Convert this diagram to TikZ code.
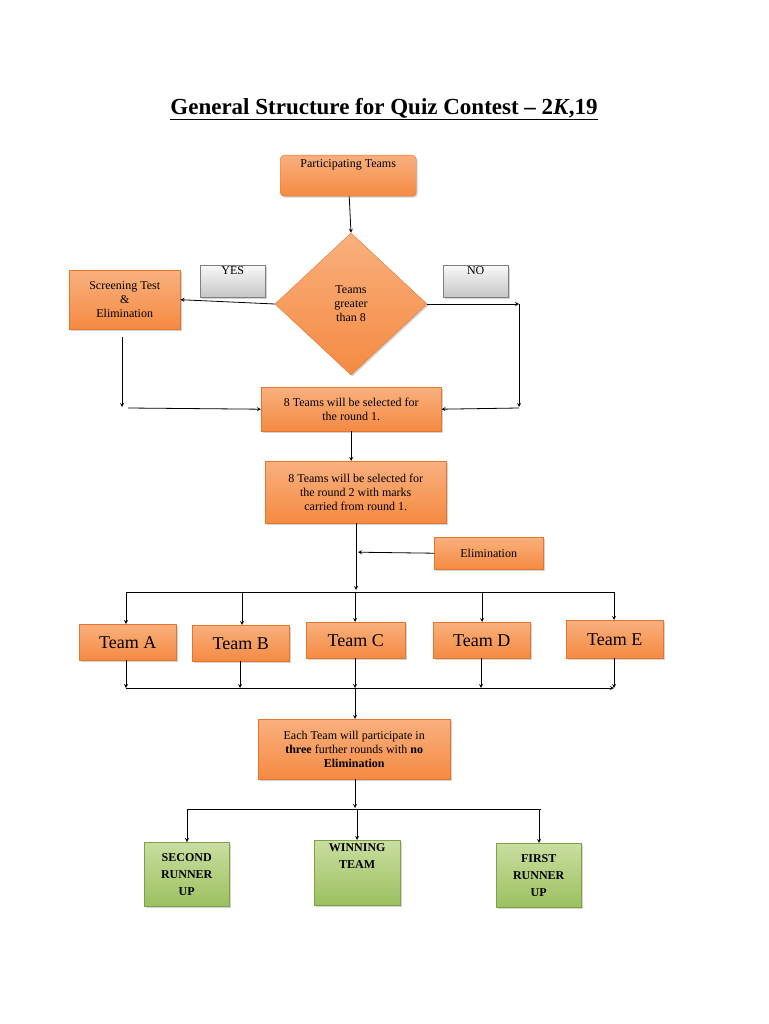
\documentclass[tikz,border=0pt]{standalone}
\usepackage{fontspec}
\setmainfont{Liberation Serif}
\usetikzlibrary{shapes.geometric,shadows}
\definecolor{orT}{HTML}{F9B07E}
\definecolor{orB}{HTML}{F58A42}
\definecolor{orD}{HTML}{E3762F}
\definecolor{grT}{HTML}{C9DEA0}
\definecolor{grB}{HTML}{9CC060}
\definecolor{grD}{HTML}{7FA048}
\begin{document}
\begin{tikzpicture}[x=1pt,y=-1pt,
 box/.style={draw=orD,top color=orT,bottom color=orB,align=center,inner sep=0pt,
   font=\fontsize{12}{14}\selectfont,drop shadow={shadow xshift=1.5pt,shadow yshift=-1.5pt,opacity=.35}},
 gbox/.style={draw=grD,top color=grT,bottom color=grB,align=center,inner sep=0pt,
   font=\bfseries\fontsize{12}{17}\selectfont,drop shadow={shadow xshift=1.5pt,shadow yshift=-1.5pt,opacity=.35}},
 ybox/.style={draw=gray,top color=gray!5,bottom color=gray!45,align=center,inner sep=0pt,
   font=\fontsize{12}{14}\selectfont,drop shadow={shadow xshift=1.5pt,shadow yshift=-1.5pt,opacity=.35}},
 team/.style={box,minimum width=97pt,minimum height=36pt,font=\fontsize{18}{20}\selectfont},
 ar/.style={-stealth,thick},
 ln/.style={thick}]
\useasboundingbox (0,0) rectangle (768,1024);
\node[font=\bfseries\fontsize{23}{26}\selectfont] (title) at (384,109) {\underline{General Structure for Quiz Contest – 2\textit{K}\kern-1pt,19}};
\node[box,rounded corners=4pt,minimum width=136pt,minimum height=41pt,anchor=north west] (pt) at (280,155) {Participating Teams\\[10pt]};
\node[box,diamond,aspect=1.07,minimum width=152pt,minimum height=142pt,inner sep=0pt] (dia) at (351,304) {Teams\\greater\\than 8};
\node[ybox,minimum width=65pt,minimum height=32pt,anchor=north west] (yes) at (200,265) {YES\\[8pt]};
\node[ybox,minimum width=65pt,minimum height=32pt,anchor=north west] (no) at (443,265) {NO\\[8pt]};
\node[box,minimum width=111pt,minimum height=59pt,anchor=north west] (scr) at (69,270) {Screening Test\\\&\\Elimination};
\node[box,minimum width=180pt,minimum height=44pt,anchor=north west] (r1) at (261,387) {8 Teams will be selected for\\the round 1.};
\node[box,minimum width=181pt,minimum height=62pt,anchor=north west] (r2) at (265,461) {8 Teams will be selected for\\the round 2 with marks\\carried from round 1.};
\node[box,minimum width=109pt,minimum height=32pt,anchor=north west] (el) at (434,537) {Elimination};
\node[team,anchor=north west] (ta) at (79,624) {Team A};
\node[team,anchor=north west] (tb) at (192,625) {Team B};
\node[team,anchor=north west,minimum width=99pt] (tc) at (306,622) {Team C};
\node[team,anchor=north west] (td) at (433,622) {Team D};
\node[team,anchor=north west,minimum height=38pt] (te) at (566,620) {Team E};
\node[box,minimum width=192pt,minimum height=60pt,anchor=north west] (each) at (258,719) {Each Team will participate in\\\textbf{three} further rounds with \textbf{no}\\\textbf{Elimination}};
\node[gbox,minimum width=85pt,minimum height=64pt,anchor=north west] (sec) at (144,842) {SECOND\\RUNNER\\UP};
\node[gbox,minimum width=86pt,minimum height=65pt,anchor=north west] (win) at (314,840) {WINNING\\TEAM\\[16pt]};
\node[gbox,minimum width=85pt,minimum height=64pt,anchor=north west] (fir) at (496,843) {FIRST\\RUNNER\\UP};
% coordinates
\coordinate (nr) at (519,304); \coordinate (nd) at (519,407); \coordinate (nl) at (519,408);
\coordinate (st) at (122,337); \coordinate (sb) at (122,407); \coordinate (sl) at (128,408);
\coordinate (r2d) at (356,590);
\coordinate (h1l) at (126,592); \coordinate (h1r) at (614,592);
\coordinate (h2l) at (126,688); \coordinate (h2r) at (614,688); \coordinate (h2m) at (355,688);
\coordinate (h3l) at (187,809); \coordinate (h3r) at (541,809); \coordinate (h3m) at (355,808);
\draw[ar] (pt) -- (dia.north);
\draw[ar] (dia.west) -- (scr.east);
\draw[ar] (dia.east) -- (nr);
\draw[ar] (nr) -- (nd);
\draw[ar] (nl) -- (r1.east);
\draw[ar] (st) -- (sb);
\draw[ar] (sl) -- (r1.west);
\draw[ar] (r1.south) -- (r1.south|-r2.north);
\draw[ar] (r2.south-|r2d) -- (r2d);
\draw[ar] (el.west) -- ++(-76,-1);
\draw[ln] (h1l) -- (h1r);
\draw[ar] (h1l) -- (h1l|-ta.north);
\draw[ar] (242,592) -- (242,625);
\draw[ar] (355,592) -- (355,622);
\draw[ar] (482,592) -- (482,622);
\draw[ar] (h1r) -- (h1r|-te.north);
\draw[ar] (ta.south-|h2l) -- (h2l);
\draw[ar] (240,661) -- (240,688);
\draw[ar] (355,658) -- (355,688);
\draw[ar] (481,658) -- (481,688);
\draw[ar] (te.south-|h2r) -- (h2r);
\draw[ar] (h2l) -- (h2r);
\draw[ar] (h2m) -- (h2m|-each.north);
\draw[ar] (each.south-|h3m) -- (h3m);
\draw[ln] (h3l) -- (h3r);
\draw[ar] (h3l) -- (h3l|-sec.north);
\draw[ar] (357,809) -- (357,840);
\draw[ar] (539,809) -- (539,843);
\end{tikzpicture}
\end{document}
